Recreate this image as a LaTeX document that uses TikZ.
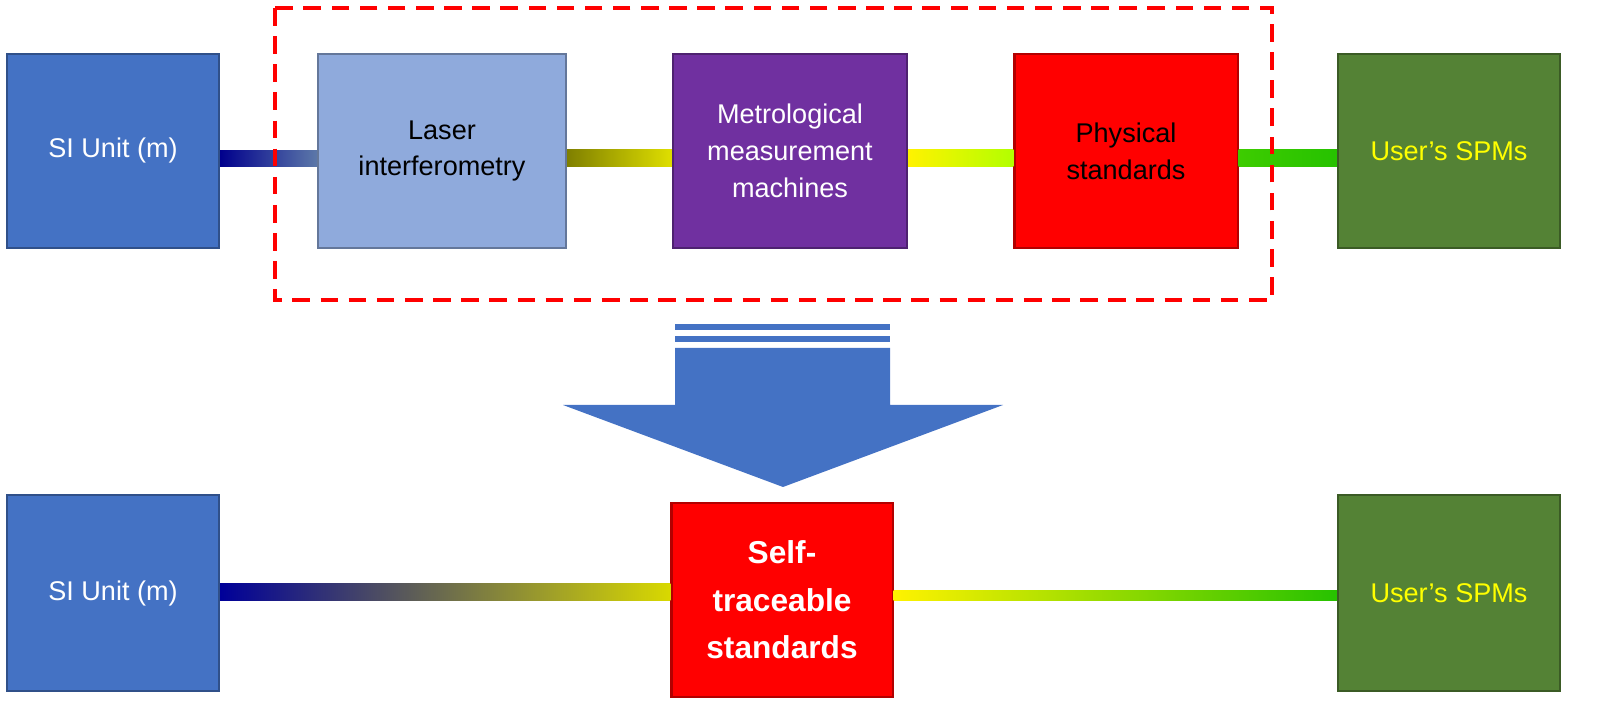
\documentclass[tikz,border=0pt]{standalone}
\usepackage{fontspec}
\setmainfont{Liberation Sans}
\usetikzlibrary{calc}
\definecolor{siblue}{HTML}{4472C4}
\definecolor{lightblue}{HTML}{8FAADC}
\definecolor{purp}{HTML}{7030A0}
\definecolor{ugreen}{HTML}{548235}
\definecolor{uyellow}{HTML}{FFFF00}
\begin{document}
\begin{tikzpicture}[x=0.01cm,y=-0.01cm,
  box/.style={draw=#1!70!black,line width=0.6pt,fill=#1,inner sep=0pt,align=center,font=\fontsize{7.7}{10.5}\selectfont}]
% top row
\node[box=siblue,text=white,minimum width=2.12cm,minimum height=1.94cm] (si1) at (113,151) {SI Unit (m)};
\node[box=lightblue,minimum width=2.48cm,minimum height=1.94cm] (las) at (442,151) {Laser\\interferometry};
\node[box=purp,text=white,minimum width=2.34cm,minimum height=1.94cm] (met) at (790,151) {Metrological\\measurement\\machines};
\node[box=red,minimum width=2.23cm,minimum height=1.94cm] (phy) at (1126,151) {Physical\\standards};
\node[box=ugreen,text=uyellow,minimum width=2.22cm,minimum height=1.94cm] (usr1) at (1449,151) {User’s SPMs};
% top connectors
\shade[left color=blue!55!black,right color=siblue!60!gray] ($(si1.east)+(0,0)$) rectangle ($(las.west)+(0,16)$);
\shade[left color=olive!80!gray,right color=yellow!75!olive] ($(las.east)+(0,-1)$) rectangle ($(met.west)+(0,16)$);
\shade[left color=yellow!90!orange,right color=yellow!70!green] ($(met.east)+(0,-1)$) rectangle ($(phy.west)+(0,16)$);
\shade[left color=green!60!lime!80!black,right color=green!70!black!80!lime] ($(phy.east)+(0,-1)$) rectangle ($(usr1.west)+(0,16)$);
\draw[red,line width=1.4pt,dash pattern=on 5pt off 3pt] (275,8) rectangle (1272,300);
% arrow
\fill[siblue] (675,324) rectangle (890,330);
\fill[siblue] (675,336) rectangle (890,342);
\fill[siblue] (675,348) -- (890,348) -- (890,405) -- (1003,405) -- (783,487) -- (563,405) -- (675,405) -- cycle;
% bottom row
\node[box=siblue,text=white,minimum width=2.12cm,minimum height=1.95cm] (si2) at (113,593) {SI Unit (m)};
\node[box=red,text=white,minimum width=2.21cm,minimum height=1.94cm,font=\bfseries\fontsize{9}{13.5}\selectfont] (self) at (782,600) {Self-\\traceable\\standards};
\node[box=ugreen,text=uyellow,minimum width=2.22cm,minimum height=1.95cm] (usr2) at (1449,593) {User’s SPMs};
\shade[left color=blue!60!black,right color=yellow!70!olive] ($(si2.east)+(0,-9)$) rectangle ($(self.west)+(0,1)$);
\shade[left color=yellow!90!orange,right color=green!70!black!80!lime] ($(self.east)+(0,-9)$) rectangle ($(usr2.west)+(0,8)$);
\pgfresetboundingbox
\path[use as bounding box] (0,0) rectangle (1600,713);
\end{tikzpicture}
\end{document}
